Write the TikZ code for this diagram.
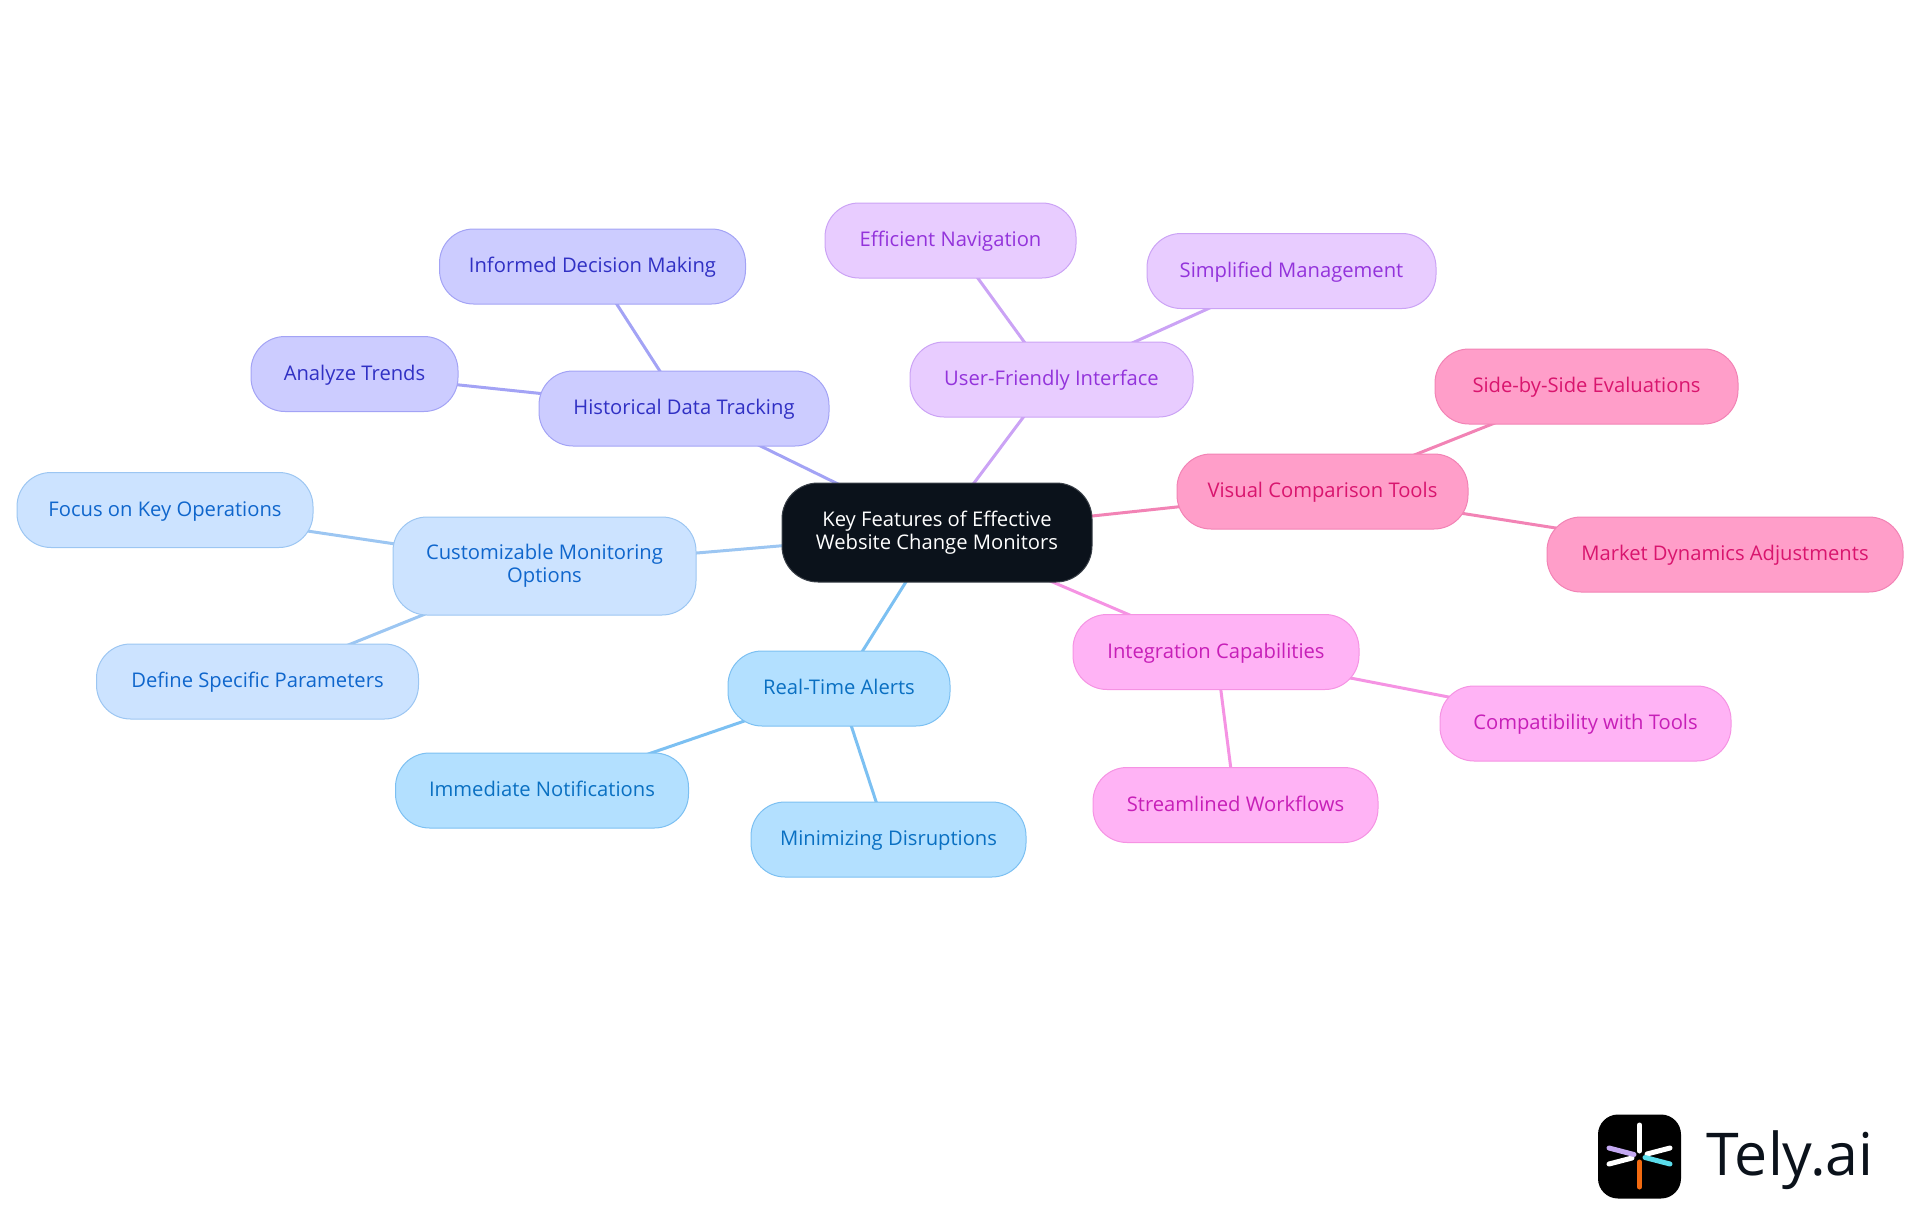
\documentclass[tikz,border=0pt]{standalone}
\usepackage{fontspec}
\setmainfont{Open Sans}
\usetikzlibrary{backgrounds}
\definecolor{rootfill}{HTML}{0B121B}
\definecolor{rootedge}{HTML}{3A4048}
\tikzset{
  x=1pt, y=-1pt,
  basebox/.style={draw, line width=1pt, rounded corners=34pt, inner sep=0pt, align=center,
    text height=16pt, text depth=4pt, font=\fontsize{20.2}{23.4}\selectfont},
  twolines/.style={text height=, text depth=},
  link/.style={line width=3pt},
  histbox/.style={basebox, fill=histfill, draw=histedge, text=histtext},
  userbox/.style={basebox, fill=userfill, draw=useredge, text=usertext},
  compbox/.style={basebox, fill=compfill, draw=compedge, text=comptext},
  intebox/.style={basebox, fill=intefill, draw=inteedge, text=intetext},
  custbox/.style={basebox, fill=custfill, draw=custedge, text=custtext},
  realbox/.style={basebox, fill=realfill, draw=realedge, text=realtext},
  starbar/.style={line width=5pt, line cap=round},
}
\definecolor{histfill}{HTML}{CCCCFF}\definecolor{histedge}{HTML}{A3A3F5}\definecolor{histtext}{HTML}{3030C4}
\definecolor{userfill}{HTML}{E8CCFF}\definecolor{useredge}{HTML}{CBA3F5}\definecolor{usertext}{HTML}{9333DB}
\definecolor{compfill}{HTML}{FF9EC9}\definecolor{compedge}{HTML}{F283B5}\definecolor{comptext}{HTML}{D9156E}
\definecolor{intefill}{HTML}{FFB3F5}\definecolor{inteedge}{HTML}{F593E3}\definecolor{intetext}{HTML}{C71FB8}
\definecolor{custfill}{HTML}{CCE3FF}\definecolor{custedge}{HTML}{9CC6F2}\definecolor{custtext}{HTML}{0F66CC}
\definecolor{realfill}{HTML}{B3E0FF}\definecolor{realedge}{HTML}{7CC0F2}\definecolor{realtext}{HTML}{0A70C2}
\definecolor{starviolet}{HTML}{C4A9F2}\definecolor{starcyan}{HTML}{5ADCEB}\definecolor{starorange}{HTML}{F26A10}
\begin{document}
\begin{tikzpicture}
    \useasboundingbox (0,0) rectangle (1920,1215);

    \node(root) at (937,532.5) [basebox, twolines, fill=rootfill, draw=rootedge, text=white, minimum width=310pt, minimum height=99pt, rounded corners=36pt] {Key Features of Effective\\Website Change Monitors};

    \node(hist) at (684,408.5) [histbox, minimum width=290pt, minimum height=75pt] {Historical Data Tracking};
    \node(hist_a) at (592.5,266.5) [histbox, minimum width=306pt, minimum height=75pt] {Informed Decision Making};
    \node(hist_b) at (354.5,374) [histbox, minimum width=207pt, minimum height=75pt] {Analyze Trends};

    \node(user) at (1051.5,379.5) [userbox, minimum width=283pt, minimum height=75pt] {User-Friendly Interface};
    \node(user_a) at (950.5,240.5) [userbox, minimum width=251pt, minimum height=75pt] {Efficient Navigation};
    \node(user_b) at (1291.5,271) [userbox, minimum width=289pt, minimum height=75pt] {Simplified Management};

    \node(comp) at (1322.5,491.5) [compbox, minimum width=291pt, minimum height=75pt] {Visual Comparison Tools};
    \node(comp_a) at (1586.5,386.5) [compbox, minimum width=303pt, minimum height=75pt] {Side-by-Side Evaluations};
    \node(comp_b) at (1725,554.5) [compbox, minimum width=356pt, minimum height=75pt] {Market Dynamics Adjustments};

    \node(inte) at (1216,652) [intebox, minimum width=286pt, minimum height=75pt] {Integration Capabilities};
    \node(inte_a) at (1585.5,723.5) [intebox, minimum width=291pt, minimum height=75pt] {Compatibility with Tools};
    \node(inte_b) at (1235.5,805) [intebox, minimum width=285pt, minimum height=75pt] {Streamlined Workflows};

    \node(cust) at (544.5,566) [custbox, twolines, minimum width=303pt, minimum height=98pt] {Customizable Monitoring\\Options};
    \node(cust_a) at (165,510) [custbox, minimum width=296pt, minimum height=75pt] {Focus on Key Operations};
    \node(cust_b) at (257.5,681.5) [custbox, minimum width=322pt, minimum height=75pt] {Define Specific Parameters};

    \node(real) at (839,688.5) [realbox, minimum width=222pt, minimum height=75pt] {Real-Time Alerts};
    \node(real_a) at (542,790.5) [realbox, minimum width=293pt, minimum height=75pt] {Immediate Notifications};
    \node(real_b) at (888.5,839.5) [realbox, minimum width=275pt, minimum height=75pt] {Minimizing Disruptions};

    \begin{pgfonlayer}{background}
        \draw[link, histedge] (root.center) -- (hist.center);
        \draw[link, histedge] (hist.center) -- (hist_a.center);
        \draw[link, histedge] (hist.center) -- (hist_b.center);
        \draw[link, useredge] (root.center) -- (user.center);
        \draw[link, useredge] (user.center) -- (user_a.center);
        \draw[link, useredge] (user.center) -- (user_b.center);
        \draw[link, compedge] (root.center) -- (comp.center);
        \draw[link, compedge] (comp.center) -- (comp_a.center);
        \draw[link, compedge] (comp.center) -- (comp_b.center);
        \draw[link, inteedge] (root.center) -- (inte.center);
        \draw[link, inteedge] (inte.center) -- (inte_a.center);
        \draw[link, inteedge] (inte.center) -- (inte_b.center);
        \draw[link, custedge] (root.center) -- (cust.center);
        \draw[link, custedge] (cust.center) -- (cust_a.center);
        \draw[link, custedge] (cust.center) -- (cust_b.center);
        \draw[link, realedge] (root.center) -- (real.center);
        \draw[link, realedge] (real.center) -- (real_a.center);
        \draw[link, realedge] (real.center) -- (real_b.center);
    \end{pgfonlayer}

    % logo
    \node(logo) at (1639.5,1156.5) [fill=black, minimum width=83pt, minimum height=84pt, rounded corners=20pt, inner sep=0pt] {};
    \coordinate(star_up) at (1639.5,1125);
    \coordinate(star_mid) at (1639.5,1151);
    \coordinate(star_dn) at (1639.5,1187);
    \coordinate(star_ul) at (1609,1148);
    \coordinate(star_lr) at (1670,1164);
    \coordinate(star_ll) at (1609,1164);
    \coordinate(star_ur) at (1670,1148);
    \coordinate(star_a) at (1634,1154.5);
    \coordinate(star_b) at (1645,1157.5);
    \coordinate(star_c) at (1639.5,1162);
    \coordinate(star_ld) at (1632,1158);
    \coordinate(star_ru) at (1647,1154);
    \draw[white, starbar] (star_ll) -- (star_ld);
    \draw[white, starbar] (star_ru) -- (star_ur);
    \draw[white, starbar] (star_up) -- (star_mid);
    \draw[starorange, starbar] (star_c) -- (star_dn);
    \draw[starviolet, starbar] (star_ul) -- (star_a);
    \draw[starcyan, starbar] (star_b) -- (star_lr);
    \node(brand) at (1790,1160) [text=rootfill, inner sep=0pt, font=\fontsize{59}{60}\selectfont] {Tely.ai};
\end{tikzpicture}
\end{document}
